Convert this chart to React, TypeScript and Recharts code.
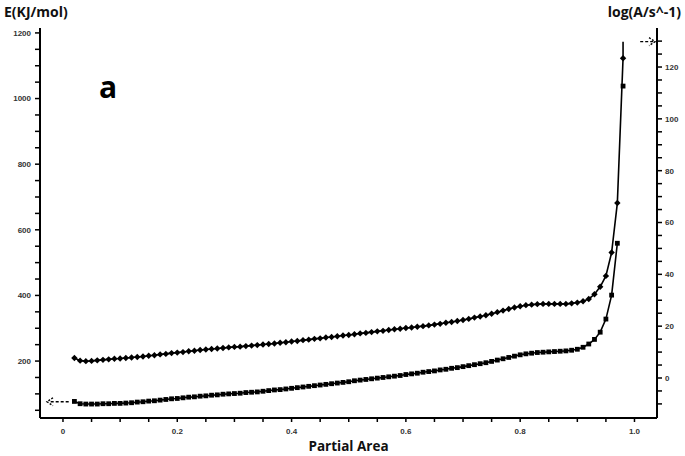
import { ComposedChart, Line, XAxis, YAxis, ReferenceLine } from "recharts";

// partial area (x), one marker every 0.01
const partialArea = [
  0.02, 0.03, 0.04, 0.05, 0.06, 0.07, 0.08, 0.09, 0.1, 0.11, 0.12, 0.13, 0.14,
  0.15, 0.16, 0.17, 0.18, 0.19, 0.2, 0.21, 0.22, 0.23, 0.24, 0.25, 0.26, 0.27,
  0.28, 0.29, 0.3, 0.31, 0.32, 0.33, 0.34, 0.35, 0.36, 0.37, 0.38, 0.39, 0.4,
  0.41, 0.42, 0.43, 0.44, 0.45, 0.46, 0.47, 0.48, 0.49, 0.5, 0.51, 0.52, 0.53,
  0.54, 0.55, 0.56, 0.57, 0.58, 0.59, 0.6, 0.61, 0.62, 0.63, 0.64, 0.65, 0.66,
  0.67, 0.68, 0.69, 0.7, 0.71, 0.72, 0.73, 0.74, 0.75, 0.76, 0.77, 0.78, 0.79,
  0.8, 0.81, 0.82, 0.83, 0.84, 0.85, 0.86, 0.87, 0.88, 0.89, 0.9, 0.91, 0.92,
  0.93, 0.94, 0.95, 0.96, 0.97, 0.98,
];

// log(A/s^-1), right axis
const logA = [
  7.7, 6.7, 6.5, 6.6, 6.8, 7.0, 7.2, 7.4, 7.5, 7.7, 7.9, 8.1, 8.3, 8.6, 8.8,
  9.1, 9.3, 9.6, 9.8, 10.0, 10.3, 10.5, 10.8, 11.0, 11.2, 11.4, 11.6, 11.8,
  12.0, 12.1, 12.3, 12.5, 12.7, 12.9, 13.1, 13.3, 13.6, 13.8, 14.1, 14.3, 14.6,
  14.8, 15.1, 15.3, 15.6, 15.8, 16.1, 16.4, 16.6, 16.9, 17.2, 17.4, 17.7, 18.0,
  18.2, 18.5, 18.8, 19.0, 19.3, 19.5, 19.8, 20.0, 20.3, 20.6, 20.9, 21.3, 21.6,
  22.0, 22.4, 22.8, 23.3, 23.7, 24.2, 24.8, 25.4, 26.0, 26.6, 27.2, 27.7, 28.1,
  28.3, 28.5, 28.6, 28.6, 28.6, 28.6, 28.6, 28.8, 29.1, 29.6, 30.5, 32.3, 35.2,
  39.4, 48.4, 67.5, 123.4,
];

// E(KJ/mol), left axis
const energy = [
  77, 70, 69, 69, 69, 70, 70, 71, 71, 72, 73, 75, 76, 78, 79, 81, 83, 85, 86,
  88, 90, 91, 93, 94, 96, 97, 99, 100, 101, 102, 104, 105, 106, 108, 110, 112,
  113, 115, 117, 119, 121, 123, 125, 127, 129, 131, 133, 135, 137, 140, 142,
  144, 146, 148, 150, 152, 154, 156, 159, 161, 163, 166, 168, 170, 173, 175,
  178, 180, 183, 186, 189, 192, 195, 199, 203, 207, 211, 215, 219, 222, 224,
  226, 227, 228, 229, 230, 231, 233, 236, 242, 252, 266, 288, 328, 401, 559,
];

// line ends without a marker
const tailArea = [0.98];
const logATail = [129.8];
const energyTail = [878];

// last E marker sits off its line
const outlierArea = [0.98];
const energyOutlier = [1038];

const xTicks = [
  0, 0.05, 0.1, 0.15, 0.2, 0.25, 0.3, 0.35, 0.4, 0.45, 0.5, 0.55, 0.6, 0.65,
  0.7, 0.75, 0.8, 0.85, 0.9, 0.95, 1.0,
];
const xLabels = [0, 0.2, 0.4, 0.6, 0.8, 1.0];

const leftTicks = [
  50, 100, 150, 200, 250, 300, 350, 400, 450, 500, 550, 600, 650, 700, 750,
  800, 850, 900, 950, 1000, 1050, 1100, 1150, 1200,
];
const leftLabels = [200, 400, 600, 800, 1000, 1200];

const rightTicks = [
  -10, -5, 0, 5, 10, 15, 20, 25, 30, 35, 40, 45, 50, 55, 60, 65, 70, 75, 80,
  85, 90, 95, 100, 105, 110, 115, 120, 125, 130,
];
const rightLabels = [0, 20, 40, 60, 80, 100, 120];

const upperData = partialArea
  .map((x, i) => ({ x, y: logA[i] }))
  .concat(tailArea.map((x, i) => ({ x, y: logATail[i] })));
const lowerData = partialArea
  .map((x, i) => ({ x, y: energy[i] }))
  .concat(tailArea.map((x, i) => ({ x, y: energyTail[i] })));
const outlierData = outlierArea.map((x, i) => ({ x, y: energyOutlier[i] }));

const tickFont = {
  fontFamily: "Liberation Sans, Arial, sans-serif",
  fontSize: 8,
  fontWeight: 700,
  fill: "#333",
};

const fmtX = (v: number) => (v === 0 ? "0" : v.toFixed(1));

const XTick = (props: any) => {
  const { x, y, payload } = props;
  if (!xLabels.some((l) => Math.abs(l - payload.value) < 1e-9)) return <g />;
  return (
    <text x={x} y={y} dy="0.71em" textAnchor="middle" {...tickFont}>
      {fmtX(payload.value)}
    </text>
  );
};

const LeftTick = (props: any) => {
  const { x, y, payload } = props;
  if (!leftLabels.includes(payload.value)) return <g />;
  return (
    <text x={x} y={y} dy="0.355em" textAnchor="end" {...tickFont}>
      {payload.value}
    </text>
  );
};

const RightTick = (props: any) => {
  const { x, y, payload } = props;
  if (!rightLabels.includes(payload.value)) return <g />;
  return (
    <text x={x} y={y} dy="0.355em" textAnchor="start" {...tickFont}>
      {payload.value}
    </text>
  );
};

const diamondDot = (props: any) => {
  const { cx, cy, index } = props;
  if (index >= logA.length || cx == null) return <g key={`u-${index}`} />;
  const r = 3.2;
  return (
    <path
      key={`u-${index}`}
      d={`M${cx},${cy - r}L${cx + r},${cy}L${cx},${cy + r}L${cx - r},${cy}Z`}
      fill="#000"
    />
  );
};

const squareDot = (props: any) => {
  const { cx, cy, index } = props;
  if (index >= energy.length || cx == null) return <g key={`l-${index}`} />;
  return (
    <rect key={`l-${index}`} x={cx - 2.4} y={cy - 2.4} width={4.8} height={4.8} fill="#000" />
  );
};

const outlierDot = (props: any) => {
  const { cx, cy, index } = props;
  return (
    <rect key={`o-${index}`} x={cx - 2.4} y={cy - 2.4} width={4.8} height={4.8} fill="#000" />
  );
};

const dashedArrow = (props: any) => {
  const { x1, y1, x2, y2 } = props;
  const dir = x2 > x1 ? 1 : -1;
  return (
    <g stroke="#000" strokeWidth={1.4} fill="none">
      <line x1={x1} y1={y1} x2={x2 - dir * 2} y2={y2} strokeDasharray="3 2" />
      <polyline
        points={`${x2 - dir * 6},${y2 - 4} ${x2},${y2} ${x2 - dir * 6},${y2 + 4}`}
        strokeDasharray="2 1.5"
      />
    </g>
  );
};

const labelFont = "'Open Sans', 'Liberation Sans', Arial, sans-serif";

export default function App() {
  return (
    <div style={{ position: "absolute", left: 0, top: 0, width: 685, height: 456, background: "#fff" }}>
      <ComposedChart
        width={685}
        height={456}
        margin={{ top: 28, right: 0, bottom: 0, left: 0 }}
      >
        <XAxis
          type="number"
          dataKey="x"
          domain={[-0.0402, 1.0394]}
          allowDataOverflow
          ticks={xTicks}
          interval={0}
          tick={<XTick />}
          tickSize={4}
          tickMargin={6}
          height={38}
          axisLine={{ stroke: "#000", strokeWidth: 2 }}
          tickLine={{ stroke: "#000", strokeWidth: 1.5 }}
        />
        <YAxis
          yAxisId="left"
          type="number"
          domain={[26.5, 1215]}
          allowDataOverflow
          ticks={leftTicks}
          interval={0}
          tick={<LeftTick />}
          tickSize={5}
          tickMargin={4}
          width={40}
          axisLine={{ stroke: "#000", strokeWidth: 2 }}
          tickLine={{ stroke: "#000", strokeWidth: 1.5 }}
        />
        <YAxis
          yAxisId="right"
          orientation="right"
          type="number"
          domain={[-15.44, 135.06]}
          allowDataOverflow
          ticks={rightTicks}
          interval={0}
          tick={<RightTick />}
          tickSize={5}
          tickMargin={3}
          width={28}
          axisLine={{ stroke: "#000", strokeWidth: 2 }}
          tickLine={{ stroke: "#000", strokeWidth: 1.5 }}
        />
        <Line
          yAxisId="right"
          data={upperData}
          dataKey="y"
          type="linear"
          stroke="#000"
          strokeWidth={1.6}
          dot={diamondDot}
          activeDot={false}
          isAnimationActive={false}
        />
        <Line
          yAxisId="left"
          data={lowerData}
          dataKey="y"
          type="linear"
          stroke="#000"
          strokeWidth={1.6}
          dot={squareDot}
          activeDot={false}
          isAnimationActive={false}
        />
        <Line
          yAxisId="left"
          data={outlierData}
          dataKey="y"
          stroke="none"
          dot={outlierDot}
          activeDot={false}
          isAnimationActive={false}
        />
        <ReferenceLine
          yAxisId="left"
          segment={[{ x: 0.01, y: 76 }, { x: -0.028, y: 76 }]}
          ifOverflow="visible"
          shape={dashedArrow}
        />
        <ReferenceLine
          yAxisId="right"
          segment={[{ x: 1.01, y: 129.8 }, { x: 1.036, y: 129.8 }]}
          ifOverflow="visible"
          shape={dashedArrow}
        />
      </ComposedChart>
      <div style={{ position: "absolute", left: 4, top: 2, fontFamily: labelFont, fontWeight: 700, fontSize: 14, color: "#111" }}>
        E(KJ/mol)
      </div>
      <div style={{ position: "absolute", right: 4, top: 2, fontFamily: labelFont, fontWeight: 700, fontSize: 14, color: "#111" }}>
        log(A/s^-1)
      </div>
      <div style={{ position: "absolute", left: 99, top: 66, fontFamily: labelFont, fontWeight: 700, fontSize: 30, color: "#000" }}>
        a
      </div>
      <div style={{ position: "absolute", left: 0, width: 685, textAlign: "center", top: 437, fontFamily: labelFont, fontWeight: 700, fontSize: 13.5, color: "#111" }}>
        <span style={{ position: "relative", left: 6 }}>Partial Area</span>
      </div>
    </div>
  );
}
